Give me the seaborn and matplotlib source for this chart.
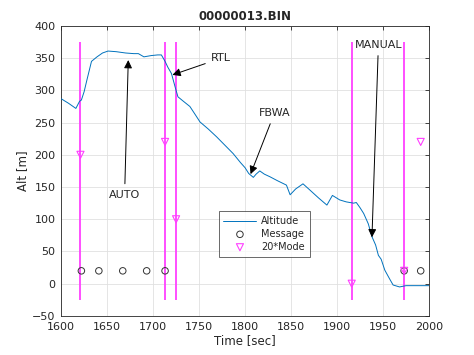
import numpy as np
import pandas as pd
import matplotlib
matplotlib.use("Agg")
import matplotlib.pyplot as plt
import seaborn as sns

# altitude trace
time_s = [1600, 1608, 1616, 1620, 1622, 1625, 1628, 1633, 1639, 1645, 1651, 1660, 1670, 1679,
          1684, 1690, 1698, 1705, 1709, 1713, 1716, 1720, 1724, 1727, 1733, 1740, 1746, 1751,
          1760, 1769, 1778, 1787, 1795, 1800, 1804, 1809, 1812, 1816, 1821, 1827, 1835, 1845,
          1849, 1855, 1863, 1870, 1880, 1889, 1895, 1903, 1910, 1918, 1921, 1925, 1929, 1934,
          1938, 1942, 1945, 1948, 1952, 1957, 1961, 1968, 1975, 1985, 2000]
alt_m = [287, 280, 272, 283, 285, 298, 316, 345, 352, 358, 361, 360, 358, 357,
         357, 352, 354, 355, 355, 345, 336, 326, 305, 290, 283, 275, 262, 251,
         240, 228, 215, 202, 188, 180, 171, 165, 170, 175, 170, 166, 160, 153,
         138, 147, 155, 146, 133, 122, 137, 130, 127, 125, 126, 118, 109, 93,
         73, 60, 44, 38, 21, 8, -2, -5, -3, -3, -3]

msg_t = [1622, 1641, 1667, 1693, 1713, 1973, 1991]
msg_y = [20, 20, 20, 20, 20, 20, 20]

mode_line_t = [1621, 1713, 1725, 1916, 1973]
mode_t = [1621, 1713, 1725, 1916, 1973, 1991]
mode_val = [10, 11, 5, 0, 1, 11]

labels = ["AUTO", "RTL", "FBWA", "MANUAL"]
arrow_head = [(1673, 347), (1721, 324), (1806, 170), (1938, 72)]
text_pos = [(1669, 138), (1774, 350), (1832, 265), (1945, 371)]

sns.set_style("white")
plt.rcParams['font.family'] = ['DejaVu Sans']

fig = plt.figure(figsize=(4.74, 3.55), dpi=100)
ax = fig.add_axes([0.129, 0.110, 0.776, 0.817])

mag = '#ff40ff'
ax.vlines(mode_line_t, -25, 375, colors=mag, lw=1.3, zorder=2)

df = pd.DataFrame({'t': time_s, 'alt': alt_m})
sns.lineplot(data=df, x='t', y='alt', ax=ax, color='#0072BD', lw=0.7, label='Altitude', zorder=3)
sns.scatterplot(x=msg_t, y=msg_y, ax=ax, marker='o', s=22, facecolor='none',
                edgecolor='#333333', linewidth=0.7, label='Message', zorder=4)
sns.scatterplot(x=mode_t, y=[20 * v for v in mode_val], ax=ax, marker='v', s=26,
                facecolor='none', edgecolor=mag, linewidth=0.8, label='20*Mode', zorder=4)

for lab, head, txt in zip(labels, arrow_head, text_pos):
    ax.annotate(lab, xy=head, xytext=txt, ha='center', va='center', fontsize=8, color='#262626',
                arrowprops=dict(arrowstyle='-|>', color='k', lw=0.7, mutation_scale=12,
                                shrinkA=2, shrinkB=0))

ax.set_xlim(1600, 2000)
ax.set_ylim(-50, 400)
ax.set_xticks(np.arange(1600, 2001, 50))
ax.set_yticks(np.arange(-50, 401, 50))
ax.grid(True, color='#e0e0e0', lw=0.6)
ax.set_axisbelow(True)
ax.tick_params(direction='in', top=True, right=True, labelsize=8, colors='#262626',
               length=3, width=0.6, pad=4)
for s in ax.spines.values():
    s.set_color('#262626')
    s.set_linewidth(0.6)
ax.set_xlabel('Time [sec]', fontsize=8.5, color='#262626', labelpad=2)
ax.set_ylabel('Alt [m]', fontsize=8.5, color='#262626', labelpad=2)
ax.set_title('00000013.BIN', fontsize=8.5, fontweight='bold', pad=4)

leg = ax.legend(loc='center', bbox_to_anchor=(0.552, 0.283), fontsize=7, frameon=True,
                fancybox=False, edgecolor='#262626', borderpad=0.5, handlelength=3.4,
                labelspacing=0.3, handletextpad=0.5, borderaxespad=0)
leg.get_frame().set_linewidth(0.6)

fig.savefig('out.png', dpi=100)
